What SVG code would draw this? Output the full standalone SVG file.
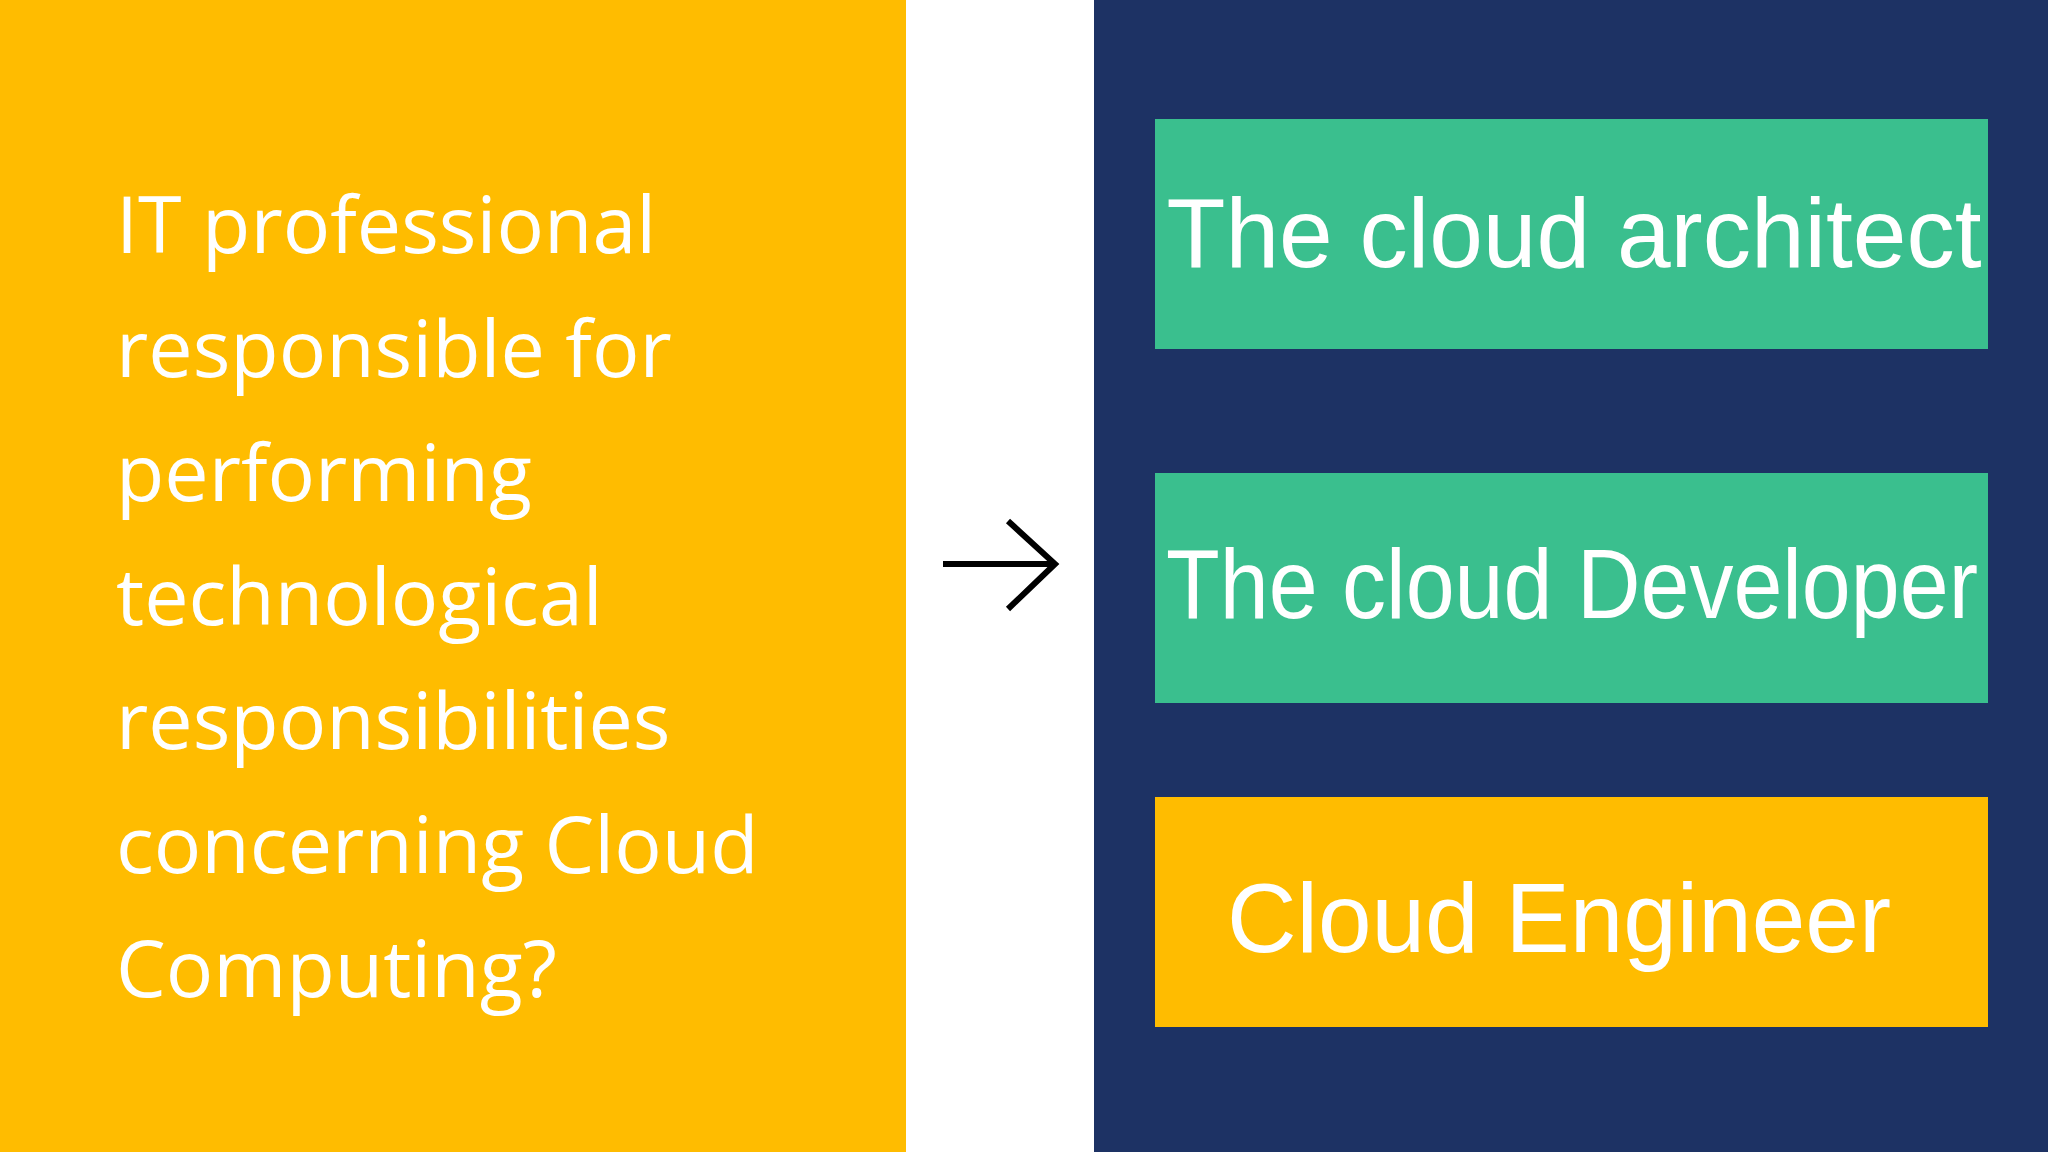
<svg xmlns="http://www.w3.org/2000/svg" width="2048" height="1152" viewBox="0 0 2048 1152">
<style>
.q{font-family:"Open Sans","DejaVu Sans",sans-serif;font-size:79px;fill:#fff}
.b{font-family:"Liberation Sans",Arial,sans-serif;font-size:98px;fill:#fff;text-anchor:middle}
</style>
<rect width="2048" height="1152" fill="#fff"/>
<g id="question">
<rect x="0" y="0" width="906" height="1152" fill="#FFBC00"/>
<text class="q" x="116" y="253">IT professional</text>
<text class="q" x="116" y="377">responsible for</text>
<text class="q" x="116" y="501">performing</text>
<text class="q" x="116" y="625">technological</text>
<text class="q" x="116" y="749">responsibilities</text>
<text class="q" x="116" y="873">concerning Cloud</text>
<text class="q" x="116" y="997">Computing?</text>
</g>
<g id="connectors">
<path d="M943 564H1055M1008 521L1055 564L1008 609" fill="none" stroke="#000" stroke-width="6"/>
</g>
<g id="answers">
<rect x="1094" y="0" width="954" height="1152" fill="#1D3264"/>
</g>
<g id="n1"><rect x="1155" y="119" width="833" height="230" fill="#3ABF8E"/><text class="b" x="1574" y="267" textLength="815" lengthAdjust="spacingAndGlyphs">The cloud architect</text></g>
<g id="n2"><rect x="1155" y="473" width="833" height="230" fill="#3ABF8E"/><text class="b" x="1572" y="618" textLength="812" lengthAdjust="spacingAndGlyphs">The cloud Developer</text></g>
<g id="n3"><rect x="1155" y="797" width="833" height="230" fill="#FFBC00"/><text class="b" x="1559" y="952" textLength="664" lengthAdjust="spacingAndGlyphs">Cloud Engineer</text></g>
</svg>
